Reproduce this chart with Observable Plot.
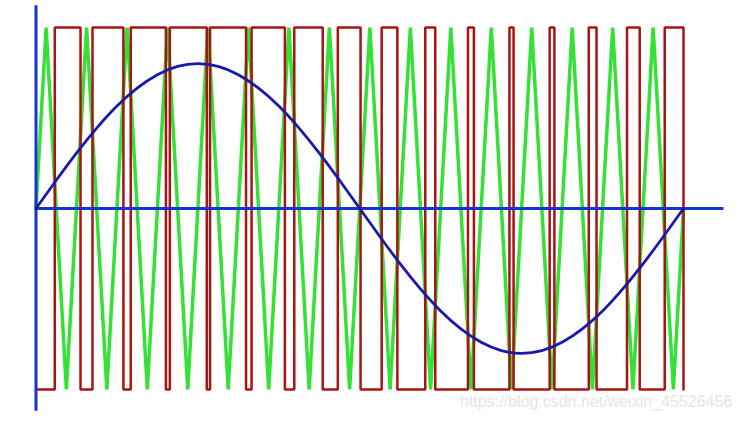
<!DOCTYPE html>
<html>
<head>
<meta charset="utf-8">
<script src="https://cdn.jsdelivr.net/npm/d3@7"></script>
<script src="https://cdn.jsdelivr.net/npm/@observablehq/plot@0.6"></script>
<style>
  html, body { margin: 0; padding: 0; background: #fff; }
  #wrap { position: relative; width: 740px; height: 421px; }
  #wm { position: absolute; left: 460px; top: 393px; font-family: "Liberation Sans", Arial, sans-serif;
        font-size: 16px; color: #e6e6e6; white-space: nowrap; }
</style>
</head>
<body>
<div id="wrap"><div id="wm">https://blog.csdn.net/weixin_45526456</div></div>
<script>
// Modulating sine wave, sampled every half carrier period (x in carrier periods)
const sineX = [0,0.5,1,1.5,2,2.5,3,3.5,4,4.5,5,5.5,6,6.5,7,7.5,8,8.5,9,9.5,10,10.5,11,11.5,12,12.5,13,13.5,14,14.5,15,15.5,16];
const sineY = [0,0.156,0.306,0.444,0.566,0.665,0.739,0.785,0.8,0.785,0.739,0.665,0.566,0.444,0.306,0.156,0,
               -0.156,-0.306,-0.444,-0.566,-0.665,-0.739,-0.785,-0.8,-0.785,-0.739,-0.665,-0.566,-0.444,-0.306,-0.156,0];

// Triangle carrier vertices
const triX = [0,0.25,0.75,1.25,1.75,2.25,2.75,3.25,3.75,4.25,4.75,5.25,5.75,6.25,6.75,7.25,7.75,8.25,8.75,
              9.25,9.75,10.25,10.75,11.25,11.75,12.25,12.75,13.25,13.75,14.25,14.75,15.25,15.75,16];
const triY = [0,1,-1,1,-1,1,-1,1,-1,1,-1,1,-1,1,-1,1,-1,1,-1,1,-1,1,-1,1,-1,1,-1,1,-1,1,-1,1,-1,0];

// PWM switching instants: output goes high / low
const pwmRise = [0.464,1.396,2.341,3.307,4.301,5.327,6.382,7.458,8.542,9.619,10.674,11.699,12.693,13.659,14.604,15.536];
const pwmFall = [1.100,2.160,3.210,4.220,5.190,6.150,7.085,8.020,8.929,9.866,10.821,11.801,12.810,13.851,14.918,16.000];

const sine = sineX.map((x, i) => ({x, y: sineY[i]}));
const tri = triX.map((x, i) => ({x, y: triY[i]}));
const pwm = [{x: 0, y: -1}];
pwmRise.forEach((r, i) => {
  pwm.push({x: r, y: -1}, {x: r, y: 1}, {x: pwmFall[i], y: 1}, {x: pwmFall[i], y: -1});
});

const chart = Plot.plot({
  width: 740,
  height: 421,
  marginLeft: 35.5,
  marginRight: 57,
  marginTop: 27,
  marginBottom: 32,
  x: {domain: [0, 16], axis: null},
  y: {domain: [-1, 1], axis: null},
  style: {background: "#fff"},
  marks: [
    Plot.line(tri, {x: "x", y: "y", stroke: "#36e036", strokeWidth: 3.5, strokeLinejoin: "miter"}),
    Plot.line(pwm, {x: "x", y: "y", stroke: "#a81414", strokeWidth: 2.5, strokeLinejoin: "miter"}),
    Plot.ruleY([0], {x1: 0, x2: 17, stroke: "#1434d2", strokeWidth: 3, clip: false}),
    Plot.ruleX([0], {y1: -1.12, y2: 1.12, stroke: "#1434d2", strokeWidth: 3, clip: false}),
    Plot.line(sine, {x: "x", y: "y", stroke: "#1a1aaa", strokeWidth: 2.8, curve: "natural"})
  ]
});
document.getElementById("wrap").prepend(chart);
</script>
</body>
</html>
